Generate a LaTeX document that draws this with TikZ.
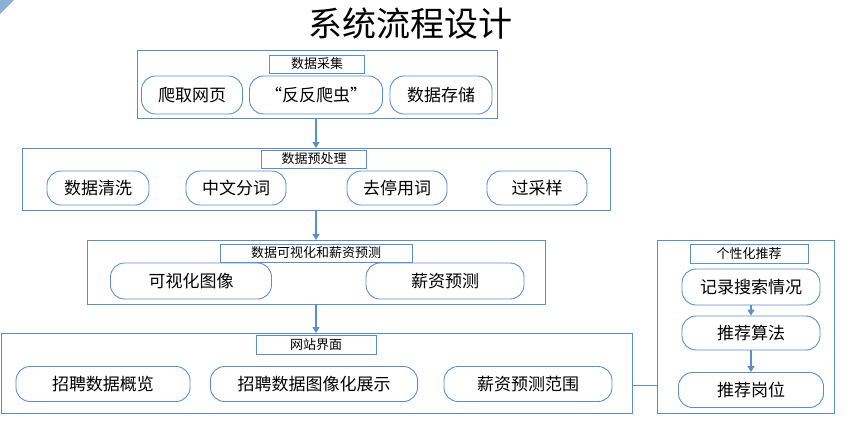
\documentclass[tikz,border=0pt]{standalone}
\usepackage{fontspec}
\setmainfont{Noto Sans CJK SC}
\usetikzlibrary{arrows.meta}
\definecolor{bl}{HTML}{5B8FC9}
\begin{document}
\begin{tikzpicture}[x=1pt,y=-1pt,
 frame/.style={draw=bl,line width=0.9pt},
 tab/.style={draw=bl,line width=0.9pt,fill=white,font=\fontsize{13}{14}\selectfont,inner sep=0pt},
 pill/.style={draw=bl,line width=0.9pt,fill=white,rounded corners=14pt,font=\fontsize{17}{19}\selectfont,inner sep=0pt},
 arr/.style={-{Triangle[length=6pt,width=7pt]},bl,line width=1.2pt}]
\useasboundingbox (0,0) rectangle (852,429);
\fill[bl!70] (0,0) -- (14,0) -- (0,14) -- cycle;
\node (title) at (410,24) {\fontsize{34}{38}\selectfont 系统流程设计};
% box1
\draw[frame] (137,50) rectangle (497,118);
\coordinate (b1t) at (316,50); \coordinate (b1b) at (316,118);
\node[tab,minimum width=95pt,minimum height=18pt] (t1) at (317,64) {数据采集};
\node[pill,minimum width=101pt,minimum height=38pt] (p11) at (192,95) {爬取网页};
\node[pill,minimum width=133pt,minimum height=38pt] (p12) at (316,95) {“反反爬虫”};
\node[pill,minimum width=102pt,minimum height=38pt] (p13) at (441,95) {数据存储};
% box2
\draw[frame] (22,148) rectangle (610,210);
\coordinate (b2t) at (316,148); \coordinate (b2b) at (316,210);
\node[tab,minimum width=105pt,minimum height=18pt] (t2) at (314,159) {数据预处理};
\node[pill,minimum width=102pt,minimum height=34pt] (p21) at (98,188) {数据清洗};
\node[pill,minimum width=100pt,minimum height=34pt] (p22) at (236,188) {中文分词};
\node[pill,minimum width=100pt,minimum height=34pt] (p23) at (397,188) {去停用词};
\node[pill,minimum width=100pt,minimum height=34pt] (p24) at (537,188) {过采样};
% box3
\draw[frame] (87,240) rectangle (545,304);
\coordinate (b3t) at (316,240); \coordinate (b3b) at (316,304);
\node[tab,minimum width=192pt,minimum height=18pt] (t3) at (316,253) {数据可视化和薪资预测};
\node[pill,minimum width=161pt,minimum height=36pt] (p31) at (191,281) {可视化图像};
\node[pill,minimum width=158pt,minimum height=36pt] (p32) at (445,281) {薪资预测};
% box4
\draw[frame] (1,333) rectangle (632,413);
\coordinate (b4t) at (316,333); \coordinate (b4r) at (632,385);
\node[tab,minimum width=120pt,minimum height=19pt] (t4) at (316,345) {网站界面};
\node[pill,minimum width=174pt,minimum height=35pt] (p41) at (103,384) {招聘数据概览};
\node[pill,minimum width=207pt,minimum height=35pt] (p42) at (314,384) {招聘数据图像化展示};
\node[pill,minimum width=168pt,minimum height=35pt] (p43) at (528,384) {薪资预测范围};
% right box
\draw[frame] (657,240) rectangle (834,413);
\coordinate (rl) at (657,385);
\node[tab,minimum width=118pt,minimum height=19pt] (t5) at (749,254) {个性化推荐};
\node[pill,minimum width=138pt,minimum height=36pt] (r1) at (751,287) {记录搜索情况};
\node[pill,minimum width=138pt,minimum height=34pt] (r2) at (751,333) {推荐算法};
\node[pill,minimum width=145pt,minimum height=35pt] (r3) at (751,390) {推荐岗位};
% connectors
\draw[arr] (b1b) -- (b2t);
\draw[arr] (b2b) -- (b3t);
\draw[arr] (b3b) -- (b4t);
\draw[arr] (r1) -- (r2);
\draw[arr] (r2) -- (r3);
\draw[bl,line width=0.9pt] (b4r) -- (rl);
\end{tikzpicture}
\end{document}
